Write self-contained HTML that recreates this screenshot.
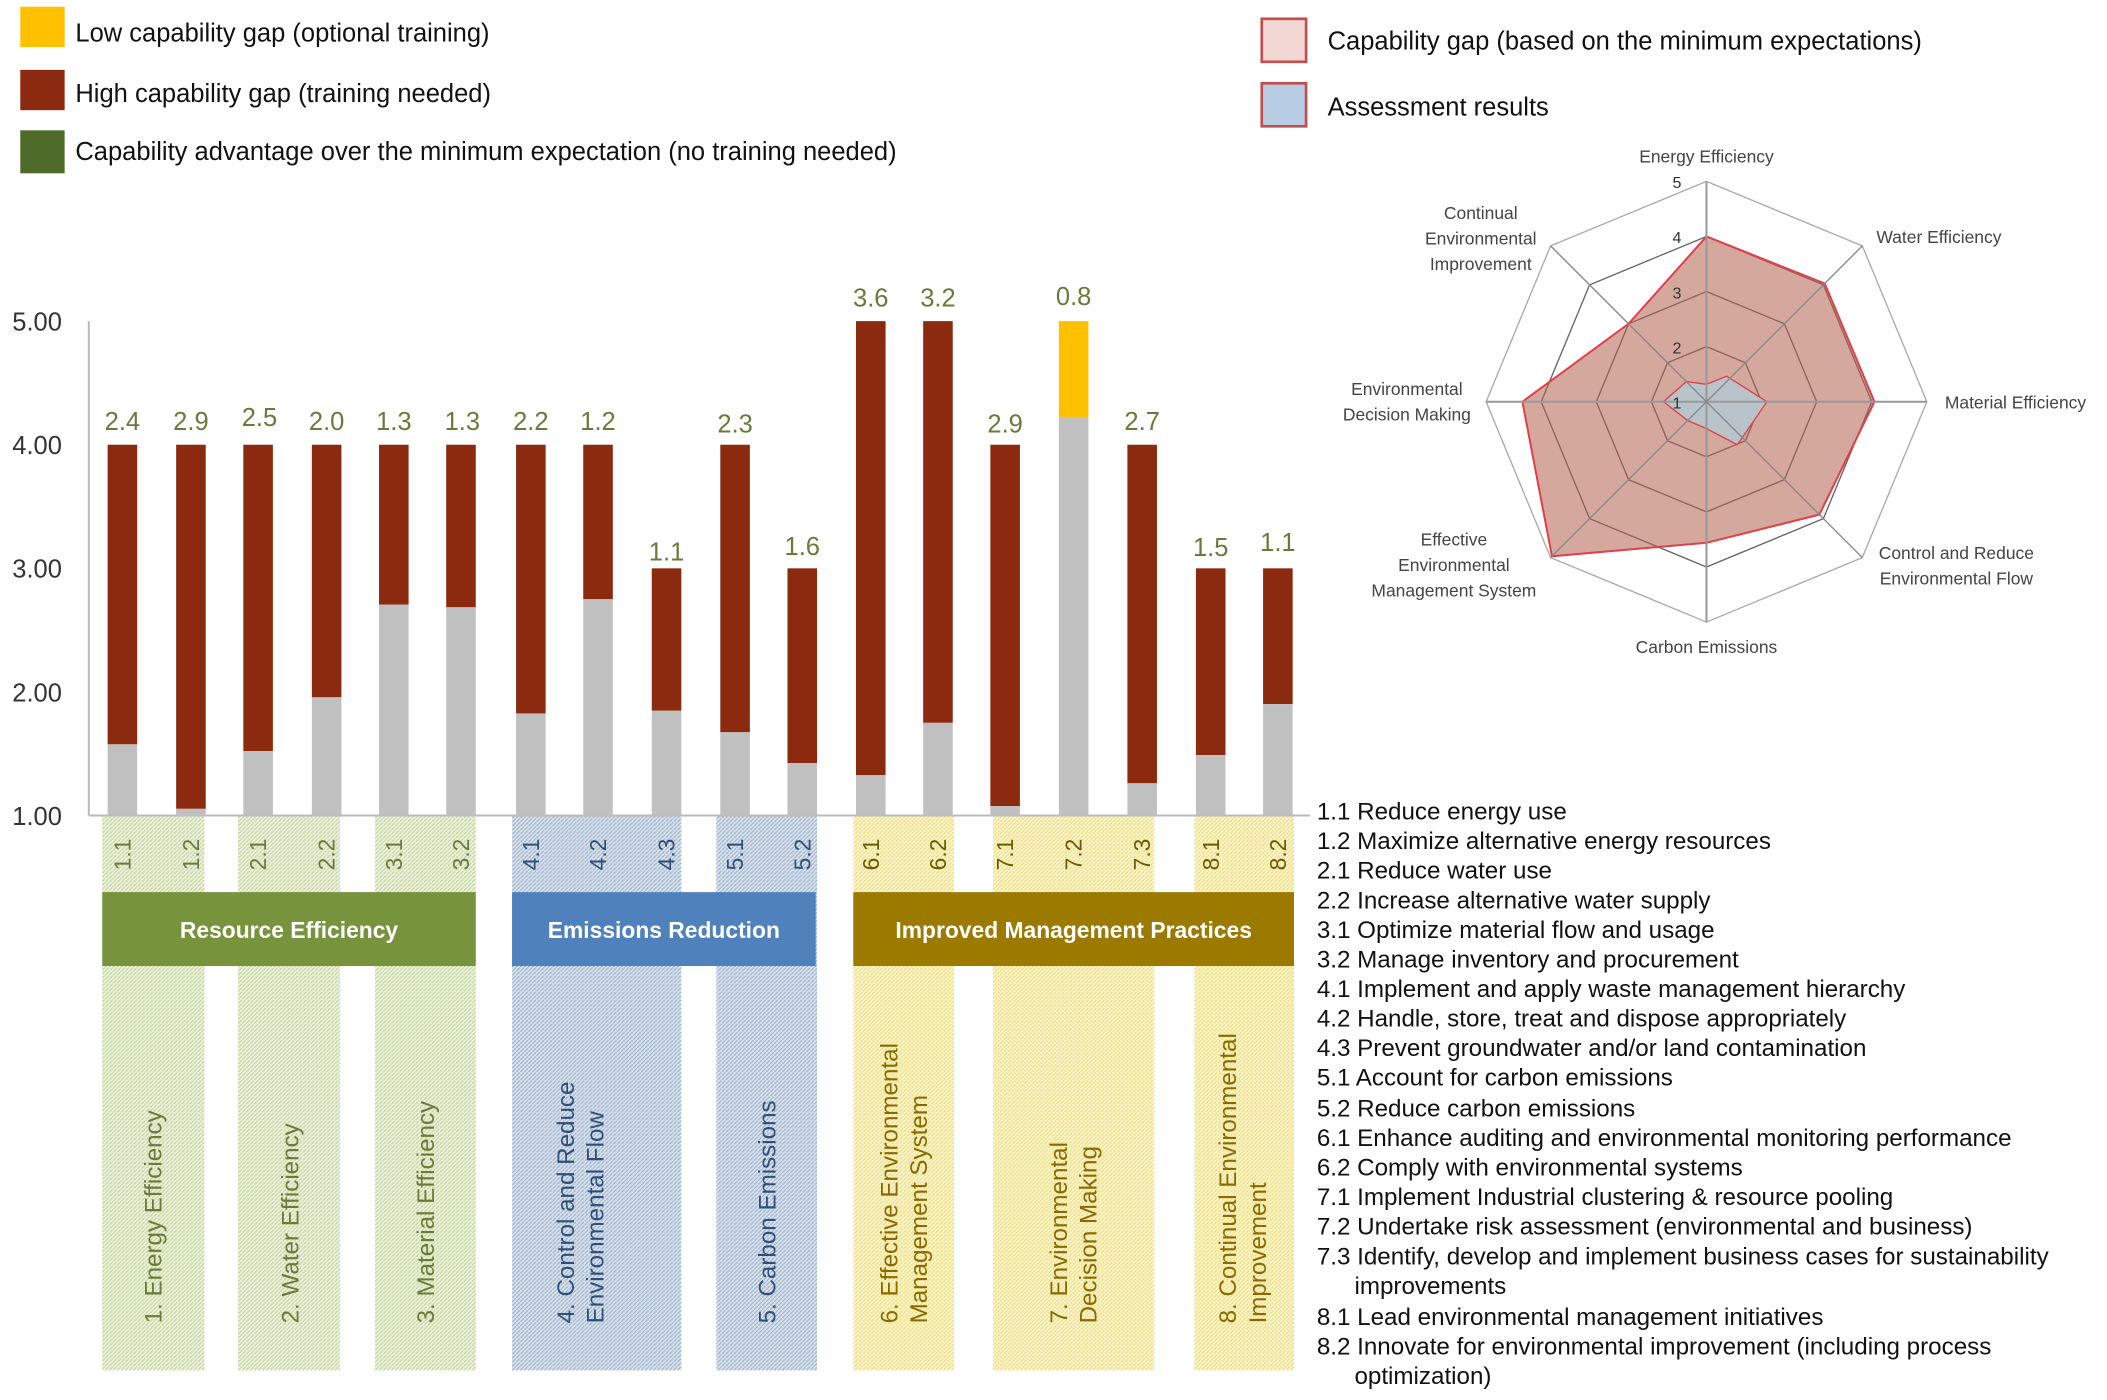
<!DOCTYPE html>
<html><head><meta charset="utf-8"><style>html,body{margin:0;padding:0;background:#fff}svg{display:block}</style></head>
<body>
<svg xmlns="http://www.w3.org/2000/svg" width="2107" height="1400" viewBox="0 0 1568 1042" font-family="Liberation Sans, sans-serif">
<defs>
<pattern id="pg" width="3" height="3" patternUnits="userSpaceOnUse"><rect width="3" height="3" fill="#eef3e0"/><path d="M0,3L3,0" stroke="#c6d6a0" stroke-width="1"/></pattern>
<pattern id="pb" width="3" height="3" patternUnits="userSpaceOnUse"><rect width="3" height="3" fill="#dce5ef"/><path d="M0,3L3,0" stroke="#9fb3cc" stroke-width="1"/></pattern>
<pattern id="py" width="3" height="3" patternUnits="userSpaceOnUse"><rect width="3" height="3" fill="#fbf5cc"/><path d="M0,3L3,0" stroke="#eedf88" stroke-width="1"/></pattern>
</defs>
<rect width="1568" height="1042" fill="#fff"/>
<rect x="15" y="5" width="33" height="30" fill="#ffc000"/>
<rect x="15" y="52" width="33" height="30" fill="#8b2a0e"/>
<rect x="15" y="97" width="33" height="32" fill="#4e6b2a"/>
<g font-size="19" fill="#111">
<text x="56" y="31">Low capability gap (optional training)</text>
<text x="56" y="76">High capability gap (training needed)</text>
<text x="56" y="119">Capability advantage over the minimum expectation (no training needed)</text>
</g>
<rect x="939" y="14" width="33" height="32" fill="#f2d7d5" stroke="#c0504d" stroke-width="2"/>
<rect x="939" y="62" width="33" height="32" fill="#b8cce4" stroke="#c0504d" stroke-width="2"/>
<g font-size="19" fill="#111">
<text x="988" y="37">Capability gap (based on the minimum expectations)</text>
<text x="988" y="86">Assessment results</text>
</g>
<g>
<rect x="76" y="607" width="76" height="413" fill="url(#pg)"/>
<rect x="177" y="607" width="76" height="413" fill="url(#pg)"/>
<rect x="279" y="607" width="75" height="413" fill="url(#pg)"/>
<rect x="381" y="607" width="126" height="413" fill="url(#pb)"/>
<rect x="533" y="607" width="75" height="413" fill="url(#pb)"/>
<rect x="635" y="607" width="75" height="413" fill="url(#py)"/>
<rect x="739" y="607" width="120" height="413" fill="url(#py)"/>
<rect x="889" y="607" width="74" height="413" fill="url(#py)"/>
</g>
<line x1="66" y1="239" x2="66" y2="607" stroke="#bbb" stroke-width="1.5"/>
<line x1="66" y1="607" x2="975" y2="607" stroke="#bbb" stroke-width="1.5"/>
<g font-size="19" fill="#333" text-anchor="end">
<text x="46" y="246">5.00</text><text x="46" y="338">4.00</text><text x="46" y="430">3.00</text><text x="46" y="522">2.00</text><text x="46" y="614">1.00</text>
</g>
<g font-size="19" fill="#6b7a3a" text-anchor="middle">
<rect x="80" y="331" width="22" height="223" fill="#8b2a0e"/><rect x="80" y="554" width="22" height="53" fill="#c0c0c0"/><text x="91" y="320">2.4</text>
<rect x="131" y="331" width="22" height="271" fill="#8b2a0e"/><rect x="131" y="602" width="22" height="5" fill="#c0c0c0"/><text x="142" y="320">2.9</text>
<rect x="181" y="331" width="22" height="228" fill="#8b2a0e"/><rect x="181" y="559" width="22" height="48" fill="#c0c0c0"/><text x="193" y="317">2.5</text>
<rect x="232" y="331" width="22" height="188" fill="#8b2a0e"/><rect x="232" y="519" width="22" height="88" fill="#c0c0c0"/><text x="243" y="320">2.0</text>
<rect x="282" y="331" width="22" height="119" fill="#8b2a0e"/><rect x="282" y="450" width="22" height="157" fill="#c0c0c0"/><text x="293" y="320">1.3</text>
<rect x="332" y="331" width="22" height="121" fill="#8b2a0e"/><rect x="332" y="452" width="22" height="155" fill="#c0c0c0"/><text x="344" y="320">1.3</text>
<rect x="384" y="331" width="22" height="200" fill="#8b2a0e"/><rect x="384" y="531" width="22" height="76" fill="#c0c0c0"/><text x="395" y="320">2.2</text>
<rect x="434" y="331" width="22" height="115" fill="#8b2a0e"/><rect x="434" y="446" width="22" height="161" fill="#c0c0c0"/><text x="445" y="320">1.2</text>
<rect x="485" y="423" width="22" height="106" fill="#8b2a0e"/><rect x="485" y="529" width="22" height="78" fill="#c0c0c0"/><text x="496" y="417">1.1</text>
<rect x="536" y="331" width="22" height="214" fill="#8b2a0e"/><rect x="536" y="545" width="22" height="62" fill="#c0c0c0"/><text x="547" y="322">2.3</text>
<rect x="586" y="423" width="22" height="145" fill="#8b2a0e"/><rect x="586" y="568" width="22" height="39" fill="#c0c0c0"/><text x="597" y="413">1.6</text>
<rect x="637" y="239" width="22" height="338" fill="#8b2a0e"/><rect x="637" y="577" width="22" height="30" fill="#c0c0c0"/><text x="648" y="228">3.6</text>
<rect x="687" y="239" width="22" height="299" fill="#8b2a0e"/><rect x="687" y="538" width="22" height="69" fill="#c0c0c0"/><text x="698" y="228">3.2</text>
<rect x="737" y="331" width="22" height="269" fill="#8b2a0e"/><rect x="737" y="600" width="22" height="7" fill="#c0c0c0"/><text x="748" y="322">2.9</text>
<rect x="788" y="239" width="22" height="72" fill="#ffc000"/><rect x="788" y="311" width="22" height="296" fill="#c0c0c0"/><text x="799" y="227">0.8</text>
<rect x="839" y="331" width="22" height="252" fill="#8b2a0e"/><rect x="839" y="583" width="22" height="24" fill="#c0c0c0"/><text x="850" y="320">2.7</text>
<rect x="890" y="423" width="22" height="139" fill="#8b2a0e"/><rect x="890" y="562" width="22" height="45" fill="#c0c0c0"/><text x="901" y="414">1.5</text>
<rect x="940" y="423" width="22" height="101" fill="#8b2a0e"/><rect x="940" y="524" width="22" height="83" fill="#c0c0c0"/><text x="951" y="410">1.1</text>
</g>
<g font-size="17" text-anchor="middle">
<g fill="#6b7a3a">
<text transform="translate(97,636) rotate(-90)">1.1</text><text transform="translate(148,636) rotate(-90)">1.2</text>
<text transform="translate(198,636) rotate(-90)">2.1</text><text transform="translate(249,636) rotate(-90)">2.2</text>
<text transform="translate(299,636) rotate(-90)">3.1</text><text transform="translate(349,636) rotate(-90)">3.2</text>
</g>
<g fill="#2f4f7a">
<text transform="translate(401,636) rotate(-90)">4.1</text><text transform="translate(451,636) rotate(-90)">4.2</text>
<text transform="translate(502,636) rotate(-90)">4.3</text><text transform="translate(553,636) rotate(-90)">5.1</text>
<text transform="translate(603,636) rotate(-90)">5.2</text>
</g>
<g fill="#6e5a00">
<text transform="translate(654,636) rotate(-90)">6.1</text><text transform="translate(704,636) rotate(-90)">6.2</text>
<text transform="translate(754,636) rotate(-90)">7.1</text><text transform="translate(805,636) rotate(-90)">7.2</text>
<text transform="translate(856,636) rotate(-90)">7.3</text><text transform="translate(907,636) rotate(-90)">8.1</text>
<text transform="translate(957,636) rotate(-90)">8.2</text>
</g>
</g>
<rect x="76" y="664" width="278" height="55" fill="#77933c"/>
<rect x="381" y="664" width="226" height="55" fill="#4f81bd"/>
<rect x="635" y="664" width="328" height="55" fill="#9c7a00"/>
<g font-size="17" font-weight="bold" fill="#fff" text-anchor="middle">
<text x="215" y="698">Resource Efficiency</text>
<text x="494" y="698">Emissions Reduction</text>
<text x="799" y="698">Improved Management Practices</text>
</g>
<g font-size="18">
<g fill="#6b7a3a">
<text transform="translate(120,985) rotate(-90)">1. Energy Efficiency</text>
<text transform="translate(222,985) rotate(-90)">2. Water Efficiency</text>
<text transform="translate(323,985) rotate(-90)">3. Material Efficiency</text>
</g>
<g fill="#2f4f7a">
<text transform="translate(427,985) rotate(-90)">4. Control and Reduce</text>
<text transform="translate(449,985) rotate(-90)">   Environmental Flow</text>
<text transform="translate(577,985) rotate(-90)">5. Carbon Emissions</text>
</g>
<g fill="#8a6a00">
<text transform="translate(668,985) rotate(-90)">6. Effective Environmental</text>
<text transform="translate(690,985) rotate(-90)">   Management System</text>
<text transform="translate(794,985) rotate(-90)">7. Environmental</text>
<text transform="translate(816,985) rotate(-90)">   Decision Making</text>
<text transform="translate(920,985) rotate(-90)">8. Continual Environmental</text>
<text transform="translate(942,985) rotate(-90)">   Improvement</text>
</g>
</g>
<g font-size="18" fill="#111">
<text x="980" y="610">1.1 Reduce energy use</text>
<text x="980" y="632">1.2 Maximize alternative energy resources</text>
<text x="980" y="654">2.1 Reduce water use</text>
<text x="980" y="676">2.2 Increase alternative water supply</text>
<text x="980" y="698">3.1 Optimize material flow and usage</text>
<text x="980" y="720">3.2 Manage inventory and procurement</text>
<text x="980" y="742">4.1 Implement and apply waste management hierarchy</text>
<text x="980" y="764">4.2 Handle, store, treat and dispose appropriately</text>
<text x="980" y="786">4.3 Prevent groundwater and/or land contamination</text>
<text x="980" y="808">5.1 Account for carbon emissions</text>
<text x="980" y="831">5.2 Reduce carbon emissions</text>
<text x="980" y="853">6.1 Enhance auditing and environmental monitoring performance</text>
<text x="980" y="875">6.2 Comply with environmental systems</text>
<text x="980" y="897">7.1 Implement Industrial clustering &amp; resource pooling</text>
<text x="980" y="919">7.2 Undertake risk assessment (environmental and business)</text>
<text x="980" y="941">7.3 Identify, develop and implement business cases for sustainability</text>
<text x="1008" y="963">improvements</text>
<text x="980" y="986">8.1 Lead environmental management initiatives</text>
<text x="980" y="1008">8.2 Innovate for environmental improvement (including process</text>
<text x="1008" y="1030">optimization)</text>
</g>
<g transform="translate(1270,299)">
<g fill="none" stroke="#888" stroke-width="1">
<polygon points="0,-164 116,-116 164,0 116,116 0,164 -116,116 -164,0 -116,-116" stroke="#aaa"/>
<polygon points="0,-123 87,-87 123,0 87,87 0,123 -87,87 -123,0 -87,-87" stroke="#666"/>
<polygon points="0,-82 58,-58 82,0 58,58 0,82 -58,58 -82,0 -58,-58" stroke="#666"/>
<polygon points="0,-41 29,-29 41,0 29,29 0,41 -29,29 -41,0 -29,-29" stroke="#666"/>
</g>
<polygon points="0,-123 88,-88 125,0 84,84 0,105 -115,115 -137,0 -58,-58" fill="#b0604c" fill-opacity="0.55" stroke="#e0404a" stroke-width="1.5"/>
<polygon points="0,-13 15,-19 45,0 23,32 0,20 -14,14 -32,0 -15,-15" fill="#b8c4ca" stroke="#e0404a" stroke-width="1"/>
<g stroke="#999" stroke-width="1.5">
<line x1="0" y1="-164" x2="0" y2="164"/><line x1="-164" y1="0" x2="164" y2="0"/>
<line x1="-116" y1="-116" x2="116" y2="116" stroke="#888" stroke-width="1"/><line x1="116" y1="-116" x2="-116" y2="116" stroke="#888" stroke-width="1"/>
</g>
<g font-size="12" fill="#333" text-anchor="middle">
<text x="-22" y="5">1</text><text x="-22" y="-36">2</text><text x="-22" y="-77">3</text><text x="-22" y="-118">4</text><text x="-22" y="-159">5</text>
</g>
<g font-size="13" fill="#444" text-anchor="middle">
<text x="0" y="-178">Energy Efficiency</text>
<text x="173" y="-118">Water Efficiency</text>
<text x="230" y="5">Material Efficiency</text>
<text x="186" y="117">Control and Reduce</text><text x="186" y="136">Environmental Flow</text>
<text x="0" y="187">Carbon Emissions</text>
<text x="-188" y="107">Effective</text><text x="-188" y="126">Environmental</text><text x="-188" y="145">Management System</text>
<text x="-223" y="-5">Environmental</text><text x="-223" y="14">Decision Making</text>
<text x="-168" y="-136">Continual</text><text x="-168" y="-117">Environmental</text><text x="-168" y="-98">Improvement</text>
</g>
</g>
</svg>
</body></html>
